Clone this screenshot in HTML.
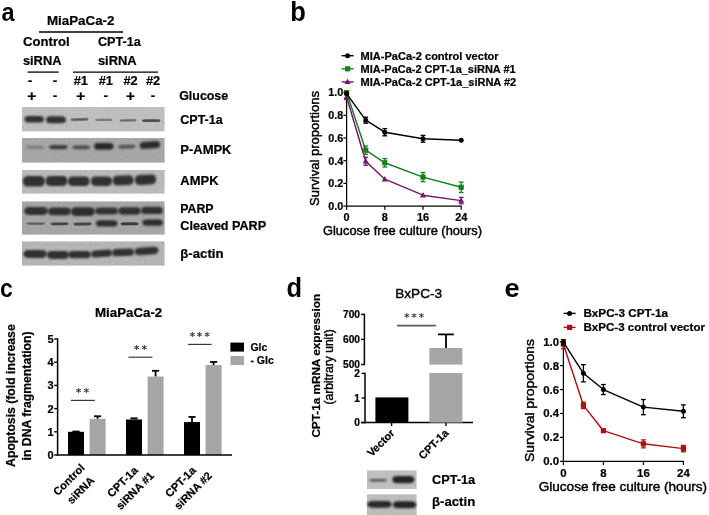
<!DOCTYPE html>
<html lang="en">
<head>
<meta charset="utf-8">
<title>Figure</title>
<style>
html,body{margin:0;padding:0;background:#fff;}
body{width:709px;height:515px;overflow:hidden;}
svg{display:block;font-family:"Liberation Sans",Arial,Helvetica,sans-serif;}
.k{stroke:#000;stroke-width:.22px;}
</style>
</head>
<body>
<svg width="709" height="515" viewBox="0 0 709 515">
<defs>
<filter id="b0" x="-20%" y="-80%" width="140%" height="260%"><feGaussianBlur stdDeviation="0.55"/></filter>
<filter id="b1" x="-20%" y="-60%" width="140%" height="220%"><feGaussianBlur stdDeviation="0.8"/></filter>
<filter id="b2" x="-20%" y="-60%" width="140%" height="220%"><feGaussianBlur stdDeviation="1.0"/></filter>
<filter id="bt" x="-5%" y="-5%" width="110%" height="110%"><feGaussianBlur stdDeviation="0.35"/></filter>
<filter id="nz" x="0" y="0" width="100%" height="100%">
<feTurbulence type="fractalNoise" baseFrequency="0.9" numOctaves="2" seed="3" result="t"/>
<feColorMatrix in="t" type="matrix" values="0 0 0 0 0  0 0 0 0 0  0 0 0 0 0  0.5 0.5 0 0 -0.42" result="n"/>
<feComposite in="n" in2="SourceGraphic" operator="in"/>
</filter>
<pattern id="gp" width="2" height="2" patternUnits="userSpaceOnUse"><rect width="2" height="2" fill="#a8a8a8"/><rect width="1" height="2" fill="#a3a3a3"/></pattern>
</defs>
<rect width="709" height="515" fill="#fff"/>

<g id="letters">
<text transform="translate(1.4 20.7) scale(1 1.07)" font-size="23.5" font-weight="bold">a</text>
<text transform="translate(290.2 20.5) scale(1 1.055)" font-size="25.5" font-weight="bold">b</text>
<text transform="translate(0 297.1) scale(0.98 1.13)" font-size="23.5" font-weight="bold">c</text>
<text transform="translate(286.6 296.8) scale(1 1.05)" font-size="25.5" font-weight="bold">d</text>
<text transform="translate(504.4 297.1) scale(1.16 1.13)" font-size="23.5" font-weight="bold">e</text>
</g>
<g id="panel-a">
<text x="47" y="25" font-size="13.2" font-weight="bold" textLength="67.4" lengthAdjust="spacingAndGlyphs" class="k">MiaPaCa-2</text>
<line x1="39" y1="32" x2="123" y2="32" stroke="#000" stroke-width="1.3" stroke-linecap="butt"/>
<text x="23.1" y="45.8" font-size="13.5" font-weight="bold" textLength="46.6" lengthAdjust="spacingAndGlyphs" class="k">Control</text>
<text x="22.9" y="64.5" font-size="13.5" font-weight="bold" textLength="38.6" lengthAdjust="spacingAndGlyphs" class="k">siRNA</text>
<text x="98" y="45.8" font-size="13.5" font-weight="bold" textLength="42.8" lengthAdjust="spacingAndGlyphs" class="k">CPT-1a</text>
<text x="97.9" y="64.5" font-size="13.5" font-weight="bold" textLength="38.8" lengthAdjust="spacingAndGlyphs" class="k">siRNA</text>
<line x1="27.6" y1="72.1" x2="58.7" y2="72.1" stroke="#000" stroke-width="1.3" stroke-linecap="butt"/>
<line x1="73" y1="72.1" x2="158" y2="72.1" stroke="#000" stroke-width="1.3" stroke-linecap="butt"/>
<text x="30.1" y="85.3" font-size="13.5" font-weight="bold" text-anchor="middle" class="k">-</text>
<text x="55.1" y="85.3" font-size="13.5" font-weight="bold" text-anchor="middle" class="k">-</text>
<text x="73.7" y="85.1" font-size="13" font-weight="bold" textLength="14.3" lengthAdjust="spacingAndGlyphs" class="k">#1</text>
<text x="98.7" y="85.1" font-size="13" font-weight="bold" textLength="14.3" lengthAdjust="spacingAndGlyphs" class="k">#1</text>
<text x="123.4" y="85.1" font-size="13" font-weight="bold" textLength="14.3" lengthAdjust="spacingAndGlyphs" class="k">#2</text>
<text x="145.9" y="85.1" font-size="13" font-weight="bold" textLength="14.3" lengthAdjust="spacingAndGlyphs" class="k">#2</text>
<text x="31.8" y="100.9" font-size="15.5" font-weight="bold" text-anchor="middle" class="k">+</text>
<text x="55.1" y="99.9" font-size="13.5" font-weight="bold" text-anchor="middle" class="k">-</text>
<text x="80.8" y="100.9" font-size="15.5" font-weight="bold" text-anchor="middle" class="k">+</text>
<text x="105.8" y="99.9" font-size="13.5" font-weight="bold" text-anchor="middle" class="k">-</text>
<text x="130.5" y="100.9" font-size="15.5" font-weight="bold" text-anchor="middle" class="k">+</text>
<text x="153" y="99.9" font-size="13.5" font-weight="bold" text-anchor="middle" class="k">-</text>
<g>
<rect x="22" y="107" width="142.6" height="24.4" fill="#c3c3c3" filter="url(#bt)"/>
<g>
<rect x="24.5" y="116.0" width="19.4" height="6.3999999999999995" rx="3.88" ry="3.1999999999999997" fill="#323232" filter="url(#b1)"/>
<rect x="46.1" y="116.3" width="19.800000000000004" height="7.0" rx="3.960000000000001" ry="3.5" fill="#303030" filter="url(#b1)"/>
<rect x="70.6" y="118.3" width="17.80000000000001" height="2.4" rx="3.5600000000000023" ry="1.2" fill="#5c5c5c" filter="url(#b0)" transform="rotate(-2 79.5 119.5)"/>
<rect x="95" y="118.80000000000001" width="17.400000000000006" height="2.2" rx="3.4800000000000013" ry="1.1" fill="#7e7e7e" filter="url(#b0)"/>
<rect x="119.6" y="119.30000000000001" width="16.80000000000001" height="2.2" rx="3.3600000000000025" ry="1.1" fill="#6c6c6c" filter="url(#b0)" transform="rotate(-1 128.0 120.4)"/>
<rect x="142" y="119.3" width="18.400000000000006" height="2.8" rx="3.6800000000000015" ry="1.4" fill="#505050" filter="url(#b0)"/>
</g>
<rect x="22" y="107" width="142.6" height="24.4" fill="#000" filter="url(#nz)" opacity="0.26"/>
</g>
<g>
<rect x="22" y="138" width="142.6" height="24.6" fill="#aaaaaa" filter="url(#bt)"/>
<g>
<rect x="26" y="145.7" width="18" height="3.0" rx="3.6" ry="1.5" fill="#7c7c7c" filter="url(#b1)"/>
<rect x="49" y="145.0" width="18.599999999999994" height="4.2" rx="3.719999999999999" ry="2.1" fill="#3e3e3e" filter="url(#b1)"/>
<rect x="72.4" y="145.4" width="17.599999999999994" height="3.8" rx="3.519999999999999" ry="1.9" fill="#4c4c4c" filter="url(#b1)"/>
<rect x="94.1" y="143.1" width="19.400000000000006" height="6.6" rx="3.8800000000000012" ry="3.3" fill="#2c2c2c" filter="url(#b1)"/>
<rect x="118" y="144.79999999999998" width="17.599999999999994" height="3.6" rx="3.519999999999999" ry="1.8" fill="#525252" filter="url(#b1)" transform="rotate(-2 126.8 146.6)"/>
<rect x="139.7" y="141.4" width="20.400000000000006" height="7.0" rx="4.080000000000001" ry="3.5" fill="#2c2c2c" filter="url(#b1)" transform="rotate(-4 149.89999999999998 144.9)"/>
</g>
<rect x="22" y="138" width="142.6" height="24.6" fill="#000" filter="url(#nz)" opacity="0.26"/>
</g>
<g>
<rect x="22" y="170" width="142.6" height="23.6" fill="#bebebe" filter="url(#bt)"/>
<g>
<rect x="22.9" y="176.10000000000002" width="22.0" height="10.4" rx="4.4" ry="5.2" fill="#303030" filter="url(#b1)"/>
<rect x="45.5" y="176.0" width="22.0" height="10.0" rx="4.4" ry="5.0" fill="#303030" filter="url(#b1)"/>
<rect x="67.9" y="176.5" width="21.799999999999997" height="9.600000000000001" rx="4.359999999999999" ry="4.800000000000001" fill="#303030" filter="url(#b1)"/>
<rect x="90.9" y="176.39999999999998" width="21.19999999999999" height="9.600000000000001" rx="4.2399999999999975" ry="4.800000000000001" fill="#303030" filter="url(#b1)"/>
<rect x="112.5" y="175.6" width="21.19999999999999" height="9.600000000000001" rx="4.2399999999999975" ry="4.800000000000001" fill="#303030" filter="url(#b1)" transform="rotate(-2 123.1 180.4)"/>
<rect x="134.8" y="174.7" width="21.299999999999983" height="10.0" rx="4.259999999999997" ry="5.0" fill="#303030" filter="url(#b1)" transform="rotate(-3 145.45 179.7)"/>
</g>
<rect x="22" y="170" width="142.6" height="23.6" fill="#000" filter="url(#nz)" opacity="0.26"/>
</g>
<g>
<rect x="22" y="201.4" width="142.6" height="33.2" fill="#a9a9a9" filter="url(#bt)"/>
<g>
<rect x="24.1" y="207.1" width="24.0" height="7.8" rx="4.800000000000001" ry="3.9" fill="#303030" filter="url(#b1)"/>
<rect x="47.9" y="207.5" width="23.199999999999996" height="7.8" rx="4.64" ry="3.9" fill="#303030" filter="url(#b1)"/>
<rect x="70.9" y="207.2" width="24.0" height="8.8" rx="4.800000000000001" ry="4.4" fill="#2e2e2e" filter="url(#b1)"/>
<rect x="95.1" y="207.6" width="22.80000000000001" height="6.8" rx="4.560000000000002" ry="3.4" fill="#323232" filter="url(#b1)"/>
<rect x="117.9" y="207.3" width="23.19999999999999" height="7.3999999999999995" rx="4.639999999999998" ry="3.6999999999999997" fill="#303030" filter="url(#b1)"/>
<rect x="141.1" y="206.70000000000002" width="21.80000000000001" height="7.3999999999999995" rx="4.360000000000002" ry="3.6999999999999997" fill="#303030" filter="url(#b1)"/>
<rect x="26.6" y="222.4" width="18.4" height="2.4" rx="3.6799999999999997" ry="1.2" fill="#5e5e5e" filter="url(#b0)"/>
<rect x="50.6" y="222.4" width="17.999999999999993" height="2.8" rx="3.5999999999999988" ry="1.4" fill="#444" filter="url(#b0)" transform="rotate(-1 59.599999999999994 223.8)"/>
<rect x="73.6" y="222.6" width="18.0" height="2.8" rx="3.6" ry="1.4" fill="#464646" filter="url(#b0)" transform="rotate(-1 82.6 224)"/>
<rect x="95.9" y="220.3" width="21.599999999999994" height="6.2" rx="4.319999999999999" ry="3.1" fill="#2e2e2e" filter="url(#b1)"/>
<rect x="120.6" y="222.3" width="17.80000000000001" height="3" rx="3.5600000000000023" ry="1.5" fill="#3e3e3e" filter="url(#b0)"/>
<rect x="142.5" y="219.4" width="20.400000000000006" height="6.3999999999999995" rx="4.080000000000001" ry="3.1999999999999997" fill="#2e2e2e" filter="url(#b1)"/>
</g>
<rect x="22" y="201.4" width="142.6" height="33.2" fill="#000" filter="url(#nz)" opacity="0.26"/>
</g>
<g>
<rect x="22" y="241.4" width="142.6" height="24.2" fill="#b9b9b9" filter="url(#bt)"/>
<g>
<rect x="23.5" y="250.1" width="23.4" height="7.8" rx="4.68" ry="3.9" fill="#303030" filter="url(#b1)"/>
<rect x="46.9" y="251.1" width="22.199999999999996" height="7.8" rx="4.4399999999999995" ry="3.9" fill="#303030" filter="url(#b1)"/>
<rect x="68.1" y="251.0" width="23.0" height="7.2" rx="4.6000000000000005" ry="3.6" fill="#303030" filter="url(#b1)"/>
<rect x="91.1" y="249.9" width="21.0" height="7.0" rx="4.2" ry="3.5" fill="#303030" filter="url(#b1)" transform="rotate(-4 101.6 253.4)"/>
<rect x="112.1" y="248.8" width="22.0" height="7.2" rx="4.4" ry="3.6" fill="#303030" filter="url(#b1)" transform="rotate(-2 123.1 252.4)"/>
<rect x="134.5" y="247.2" width="24.0" height="7.6" rx="4.800000000000001" ry="3.8" fill="#303030" filter="url(#b1)" transform="rotate(-4 146.5 251)"/>
</g>
<rect x="22" y="241.4" width="142.6" height="24.2" fill="#000" filter="url(#nz)" opacity="0.26"/>
</g>
<text x="179.2" y="99.5" font-size="13.5" font-weight="bold" textLength="49" lengthAdjust="spacingAndGlyphs" class="k">Glucose</text>
<text x="180.3" y="124.4" font-size="13.5" font-weight="bold" textLength="42.4" lengthAdjust="spacingAndGlyphs" class="k">CPT-1a</text>
<text x="180.3" y="153.8" font-size="13.5" font-weight="bold" textLength="51.2" lengthAdjust="spacingAndGlyphs" class="k">P-AMPK</text>
<text x="180.3" y="184.8" font-size="13.5" font-weight="bold" textLength="38.2" lengthAdjust="spacingAndGlyphs" class="k">AMPK</text>
<text x="180.3" y="212.8" font-size="13.5" font-weight="bold" textLength="33.2" lengthAdjust="spacingAndGlyphs" class="k">PARP</text>
<text x="180.3" y="230.4" font-size="13.5" font-weight="bold" textLength="85.8" lengthAdjust="spacingAndGlyphs" class="k">Cleaved PARP</text>
<text x="180.3" y="258.2" font-size="13.5" font-weight="bold" textLength="43.2" lengthAdjust="spacingAndGlyphs" class="k">β-actin</text>
</g>
<g id="panel-b">
<line x1="341.6" y1="55.7" x2="353.6" y2="55.7" stroke="#000" stroke-width="1.4" stroke-linecap="butt"/>
<circle cx="347.6" cy="55.7" r="2.5" fill="#000"/>
<text x="360.6" y="59.800000000000004" font-size="11.2" font-weight="bold" textLength="138" lengthAdjust="spacingAndGlyphs" class="k">MIA-PaCa-2 control vector</text>
<line x1="341.6" y1="68.8" x2="353.6" y2="68.8" stroke="#15821a" stroke-width="1.4" stroke-linecap="butt"/>
<rect x="345.0" y="66.2" width="5.2" height="5.2" fill="#15821a"/>
<text x="360.6" y="72.89999999999999" font-size="11.2" font-weight="bold" textLength="155" lengthAdjust="spacingAndGlyphs" class="k">MIA-PaCa-2 CPT-1a_siRNA #1</text>
<line x1="341.6" y1="81.9" x2="353.6" y2="81.9" stroke="#6f1a6d" stroke-width="1.4" stroke-linecap="butt"/>
<path d="M347.6 78.7 L350.70000000000005 84.10000000000001 L344.5 84.10000000000001 Z" fill="#6f1a6d"/>
<text x="360.6" y="86.0" font-size="11.2" font-weight="bold" textLength="155.6" lengthAdjust="spacingAndGlyphs" class="k">MIA-PaCa-2 CPT-1a_siRNA #2</text>
<line x1="346.6" y1="92.0" x2="346.6" y2="206.7" stroke="#000" stroke-width="1.25" stroke-linecap="butt"/>
<line x1="346.0" y1="206.1" x2="461.80000000000007" y2="206.1" stroke="#000" stroke-width="1.25" stroke-linecap="butt"/>
<line x1="343.40000000000003" y1="206.1" x2="346.6" y2="206.1" stroke="#000" stroke-width="1.2" stroke-linecap="butt"/>
<text x="343.3" y="209.9" font-size="10.9" font-weight="bold" text-anchor="end" textLength="15" lengthAdjust="spacingAndGlyphs" class="k">0.0</text>
<line x1="343.40000000000003" y1="183.39999999999998" x2="346.6" y2="183.39999999999998" stroke="#000" stroke-width="1.2" stroke-linecap="butt"/>
<text x="343.3" y="187.2" font-size="10.9" font-weight="bold" text-anchor="end" textLength="15" lengthAdjust="spacingAndGlyphs" class="k">0.2</text>
<line x1="343.40000000000003" y1="160.7" x2="346.6" y2="160.7" stroke="#000" stroke-width="1.2" stroke-linecap="butt"/>
<text x="343.3" y="164.5" font-size="10.9" font-weight="bold" text-anchor="end" textLength="15" lengthAdjust="spacingAndGlyphs" class="k">0.4</text>
<line x1="343.40000000000003" y1="138.0" x2="346.6" y2="138.0" stroke="#000" stroke-width="1.2" stroke-linecap="butt"/>
<text x="343.3" y="141.8" font-size="10.9" font-weight="bold" text-anchor="end" textLength="15" lengthAdjust="spacingAndGlyphs" class="k">0.6</text>
<line x1="343.40000000000003" y1="115.29999999999998" x2="346.6" y2="115.29999999999998" stroke="#000" stroke-width="1.2" stroke-linecap="butt"/>
<text x="343.3" y="119.09999999999998" font-size="10.9" font-weight="bold" text-anchor="end" textLength="15" lengthAdjust="spacingAndGlyphs" class="k">0.8</text>
<line x1="343.40000000000003" y1="92.6" x2="346.6" y2="92.6" stroke="#000" stroke-width="1.2" stroke-linecap="butt"/>
<text x="343.3" y="96.39999999999999" font-size="10.9" font-weight="bold" text-anchor="end" textLength="15" lengthAdjust="spacingAndGlyphs" class="k">1.0</text>
<line x1="346.6" y1="206.1" x2="346.6" y2="209.7" stroke="#000" stroke-width="1.2" stroke-linecap="butt"/>
<text x="346.6" y="220.9" font-size="10.9" font-weight="bold" text-anchor="middle" class="k">0</text>
<line x1="384.8" y1="206.1" x2="384.8" y2="209.7" stroke="#000" stroke-width="1.2" stroke-linecap="butt"/>
<text x="384.8" y="220.9" font-size="10.9" font-weight="bold" text-anchor="middle" class="k">8</text>
<line x1="423.0" y1="206.1" x2="423.0" y2="209.7" stroke="#000" stroke-width="1.2" stroke-linecap="butt"/>
<text x="423.0" y="220.9" font-size="10.9" font-weight="bold" text-anchor="middle" class="k">16</text>
<line x1="461.20000000000005" y1="206.1" x2="461.20000000000005" y2="209.7" stroke="#000" stroke-width="1.2" stroke-linecap="butt"/>
<text x="461.20000000000005" y="220.9" font-size="10.9" font-weight="bold" text-anchor="middle" class="k">24</text>
<path d="M346.6 97 L365.70000000000005 161.2 L384.8 179.2 L423.0 195.2 L461.20000000000005 200.6" fill="none" stroke="#6f1a6d" stroke-width="1.45" stroke-linejoin="round"/>
<line x1="346.6" y1="94.4" x2="346.6" y2="99.6" stroke="#6f1a6d" stroke-width="1.3" stroke-linecap="butt"/>
<line x1="344.20000000000005" y1="94.4" x2="349.0" y2="94.4" stroke="#6f1a6d" stroke-width="1.3" stroke-linecap="butt"/>
<line x1="344.20000000000005" y1="99.6" x2="349.0" y2="99.6" stroke="#6f1a6d" stroke-width="1.3" stroke-linecap="butt"/>
<path d="M346.6 93.8 L349.70000000000005 99.2 L343.5 99.2 Z" fill="#6f1a6d"/>
<line x1="365.70000000000005" y1="157.2" x2="365.70000000000005" y2="165.2" stroke="#6f1a6d" stroke-width="1.3" stroke-linecap="butt"/>
<line x1="363.30000000000007" y1="157.2" x2="368.1" y2="157.2" stroke="#6f1a6d" stroke-width="1.3" stroke-linecap="butt"/>
<line x1="363.30000000000007" y1="165.2" x2="368.1" y2="165.2" stroke="#6f1a6d" stroke-width="1.3" stroke-linecap="butt"/>
<path d="M365.70000000000005 158.0 L368.80000000000007 163.39999999999998 L362.6 163.39999999999998 Z" fill="#6f1a6d"/>
<path d="M384.8 176.0 L387.90000000000003 181.39999999999998 L381.7 181.39999999999998 Z" fill="#6f1a6d"/>
<path d="M423.0 192.0 L426.1 197.39999999999998 L419.9 197.39999999999998 Z" fill="#6f1a6d"/>
<line x1="461.20000000000005" y1="197.4" x2="461.20000000000005" y2="203.79999999999998" stroke="#6f1a6d" stroke-width="1.3" stroke-linecap="butt"/>
<line x1="458.80000000000007" y1="197.4" x2="463.6" y2="197.4" stroke="#6f1a6d" stroke-width="1.3" stroke-linecap="butt"/>
<line x1="458.80000000000007" y1="203.79999999999998" x2="463.6" y2="203.79999999999998" stroke="#6f1a6d" stroke-width="1.3" stroke-linecap="butt"/>
<path d="M461.20000000000005 197.4 L464.30000000000007 202.79999999999998 L458.1 202.79999999999998 Z" fill="#6f1a6d"/>
<path d="M346.6 92.6 L365.70000000000005 150.2 L384.8 162.8 L423.0 177.1 L461.20000000000005 187.3" fill="none" stroke="#15821a" stroke-width="1.45" stroke-linejoin="round"/>
<line x1="346.6" y1="90.6" x2="346.6" y2="94.6" stroke="#15821a" stroke-width="1.3" stroke-linecap="butt"/>
<line x1="344.20000000000005" y1="90.6" x2="349.0" y2="90.6" stroke="#15821a" stroke-width="1.3" stroke-linecap="butt"/>
<line x1="344.20000000000005" y1="94.6" x2="349.0" y2="94.6" stroke="#15821a" stroke-width="1.3" stroke-linecap="butt"/>
<rect x="344.0" y="90.0" width="5.2" height="5.2" fill="#15821a"/>
<line x1="365.70000000000005" y1="146.0" x2="365.70000000000005" y2="154.39999999999998" stroke="#15821a" stroke-width="1.3" stroke-linecap="butt"/>
<line x1="363.30000000000007" y1="146.0" x2="368.1" y2="146.0" stroke="#15821a" stroke-width="1.3" stroke-linecap="butt"/>
<line x1="363.30000000000007" y1="154.39999999999998" x2="368.1" y2="154.39999999999998" stroke="#15821a" stroke-width="1.3" stroke-linecap="butt"/>
<rect x="363.1" y="147.6" width="5.2" height="5.2" fill="#15821a"/>
<line x1="384.8" y1="158.60000000000002" x2="384.8" y2="167.0" stroke="#15821a" stroke-width="1.3" stroke-linecap="butt"/>
<line x1="382.40000000000003" y1="158.60000000000002" x2="387.2" y2="158.60000000000002" stroke="#15821a" stroke-width="1.3" stroke-linecap="butt"/>
<line x1="382.40000000000003" y1="167.0" x2="387.2" y2="167.0" stroke="#15821a" stroke-width="1.3" stroke-linecap="butt"/>
<rect x="382.2" y="160.20000000000002" width="5.2" height="5.2" fill="#15821a"/>
<line x1="423.0" y1="172.5" x2="423.0" y2="181.7" stroke="#15821a" stroke-width="1.3" stroke-linecap="butt"/>
<line x1="420.6" y1="172.5" x2="425.4" y2="172.5" stroke="#15821a" stroke-width="1.3" stroke-linecap="butt"/>
<line x1="420.6" y1="181.7" x2="425.4" y2="181.7" stroke="#15821a" stroke-width="1.3" stroke-linecap="butt"/>
<rect x="420.4" y="174.5" width="5.2" height="5.2" fill="#15821a"/>
<line x1="461.20000000000005" y1="182.10000000000002" x2="461.20000000000005" y2="192.5" stroke="#15821a" stroke-width="1.3" stroke-linecap="butt"/>
<line x1="458.80000000000007" y1="182.10000000000002" x2="463.6" y2="182.10000000000002" stroke="#15821a" stroke-width="1.3" stroke-linecap="butt"/>
<line x1="458.80000000000007" y1="192.5" x2="463.6" y2="192.5" stroke="#15821a" stroke-width="1.3" stroke-linecap="butt"/>
<rect x="458.6" y="184.70000000000002" width="5.2" height="5.2" fill="#15821a"/>
<path d="M346.6 93.6 L365.70000000000005 120.2 L384.8 132.2 L423.0 138.8 L461.20000000000005 140.2" fill="none" stroke="#000" stroke-width="1.45" stroke-linejoin="round"/>
<circle cx="346.6" cy="93.6" r="2.5" fill="#000"/>
<line x1="365.70000000000005" y1="117.2" x2="365.70000000000005" y2="123.2" stroke="#000" stroke-width="1.3" stroke-linecap="butt"/>
<line x1="363.30000000000007" y1="117.2" x2="368.1" y2="117.2" stroke="#000" stroke-width="1.3" stroke-linecap="butt"/>
<line x1="363.30000000000007" y1="123.2" x2="368.1" y2="123.2" stroke="#000" stroke-width="1.3" stroke-linecap="butt"/>
<circle cx="365.70000000000005" cy="120.2" r="2.5" fill="#000"/>
<line x1="384.8" y1="128.6" x2="384.8" y2="135.79999999999998" stroke="#000" stroke-width="1.3" stroke-linecap="butt"/>
<line x1="382.40000000000003" y1="128.6" x2="387.2" y2="128.6" stroke="#000" stroke-width="1.3" stroke-linecap="butt"/>
<line x1="382.40000000000003" y1="135.79999999999998" x2="387.2" y2="135.79999999999998" stroke="#000" stroke-width="1.3" stroke-linecap="butt"/>
<circle cx="384.8" cy="132.2" r="2.5" fill="#000"/>
<line x1="423.0" y1="135.4" x2="423.0" y2="142.20000000000002" stroke="#000" stroke-width="1.3" stroke-linecap="butt"/>
<line x1="420.6" y1="135.4" x2="425.4" y2="135.4" stroke="#000" stroke-width="1.3" stroke-linecap="butt"/>
<line x1="420.6" y1="142.20000000000002" x2="425.4" y2="142.20000000000002" stroke="#000" stroke-width="1.3" stroke-linecap="butt"/>
<circle cx="423.0" cy="138.8" r="2.5" fill="#000"/>
<circle cx="461.20000000000005" cy="140.2" r="2.5" fill="#000"/>
<text x="323" y="234.8" font-size="13" textLength="159" lengthAdjust="spacingAndGlyphs" stroke="#000" stroke-width="0.45">Glucose free culture (hours)</text>
<text x="319" y="206" font-size="13" textLength="115" lengthAdjust="spacingAndGlyphs" transform="rotate(-90 319 206)" stroke="#000" stroke-width="0.45">Survival proportions</text>
</g>
<g id="panel-c">
<text x="95" y="317" font-size="13.2" font-weight="bold" textLength="67.2" lengthAdjust="spacingAndGlyphs" class="k">MiaPaCa-2</text>
<line x1="76.0" y1="431.5216" x2="76.0" y2="431.8" stroke="#000" stroke-width="1.8" stroke-linecap="butt"/>
<line x1="72.4" y1="431.5216" x2="79.6" y2="431.5216" stroke="#000" stroke-width="1.8" stroke-linecap="butt"/>
<rect x="68" y="431.8" width="16" height="23.19999999999999" fill="#000"/>
<line x1="97.6" y1="416.256" x2="97.6" y2="418.808" stroke="#000" stroke-width="1.8" stroke-linecap="butt"/>
<line x1="94.0" y1="416.256" x2="101.19999999999999" y2="416.256" stroke="#000" stroke-width="1.8" stroke-linecap="butt"/>
<rect x="89.6" y="418.808" width="16.0" height="36.19200000000001" fill="url(#gp)"/>
<line x1="134.0" y1="418.344" x2="134.0" y2="419.504" stroke="#000" stroke-width="1.8" stroke-linecap="butt"/>
<line x1="130.4" y1="418.344" x2="137.6" y2="418.344" stroke="#000" stroke-width="1.8" stroke-linecap="butt"/>
<rect x="126" y="419.504" width="16" height="35.49599999999998" fill="#000"/>
<line x1="155.6" y1="370.784" x2="155.6" y2="376.584" stroke="#000" stroke-width="1.8" stroke-linecap="butt"/>
<line x1="152.0" y1="370.784" x2="159.2" y2="370.784" stroke="#000" stroke-width="1.8" stroke-linecap="butt"/>
<rect x="147.6" y="376.584" width="16.0" height="78.416" fill="url(#gp)"/>
<line x1="192.0" y1="416.952" x2="192.0" y2="422.056" stroke="#000" stroke-width="1.8" stroke-linecap="butt"/>
<line x1="188.4" y1="416.952" x2="195.6" y2="416.952" stroke="#000" stroke-width="1.8" stroke-linecap="butt"/>
<rect x="184" y="422.056" width="16" height="32.94400000000002" fill="#000"/>
<line x1="213.6" y1="361.968" x2="213.6" y2="364.98400000000004" stroke="#000" stroke-width="1.8" stroke-linecap="butt"/>
<line x1="210.0" y1="361.968" x2="217.2" y2="361.968" stroke="#000" stroke-width="1.8" stroke-linecap="butt"/>
<rect x="205.6" y="364.98400000000004" width="16.0" height="90.01599999999996" fill="url(#gp)"/>
<line x1="57.6" y1="338.3" x2="57.6" y2="455.7" stroke="#000" stroke-width="1.5" stroke-linecap="butt"/>
<line x1="56.9" y1="455" x2="232" y2="455" stroke="#000" stroke-width="1.5" stroke-linecap="butt"/>
<line x1="54.2" y1="455.0" x2="57.6" y2="455.0" stroke="#000" stroke-width="1.4" stroke-linecap="butt"/>
<text x="53.6" y="459.0" font-size="11" font-weight="bold" text-anchor="end" class="k">0</text>
<line x1="54.2" y1="431.8" x2="57.6" y2="431.8" stroke="#000" stroke-width="1.4" stroke-linecap="butt"/>
<text x="53.6" y="435.8" font-size="11" font-weight="bold" text-anchor="end" class="k">1</text>
<line x1="54.2" y1="408.6" x2="57.6" y2="408.6" stroke="#000" stroke-width="1.4" stroke-linecap="butt"/>
<text x="53.6" y="412.6" font-size="11" font-weight="bold" text-anchor="end" class="k">2</text>
<line x1="54.2" y1="385.4" x2="57.6" y2="385.4" stroke="#000" stroke-width="1.4" stroke-linecap="butt"/>
<text x="53.6" y="389.4" font-size="11" font-weight="bold" text-anchor="end" class="k">3</text>
<line x1="54.2" y1="362.2" x2="57.6" y2="362.2" stroke="#000" stroke-width="1.4" stroke-linecap="butt"/>
<text x="53.6" y="366.2" font-size="11" font-weight="bold" text-anchor="end" class="k">4</text>
<line x1="54.2" y1="339.0" x2="57.6" y2="339.0" stroke="#000" stroke-width="1.4" stroke-linecap="butt"/>
<text x="53.6" y="343.0" font-size="11" font-weight="bold" text-anchor="end" class="k">5</text>
<text x="78.53 86.28" y="395.8" font-family="&quot;DejaVu Sans&quot;, &quot;Liberation Sans&quot;, sans-serif" font-size="10.8" font-weight="bold" text-anchor="middle" fill="#383838">**</text>
<line x1="71" y1="400.4" x2="94.8" y2="400.4" stroke="#383838" stroke-width="1.2" stroke-linecap="butt"/>
<text x="136.53 144.28" y="352.8" font-family="&quot;DejaVu Sans&quot;, &quot;Liberation Sans&quot;, sans-serif" font-size="10.8" font-weight="bold" text-anchor="middle" fill="#383838">**</text>
<line x1="128.4" y1="357.2" x2="152.4" y2="357.2" stroke="#383838" stroke-width="1.2" stroke-linecap="butt"/>
<text x="192.25 199.70 207.15" y="340" font-family="&quot;DejaVu Sans&quot;, &quot;Liberation Sans&quot;, sans-serif" font-size="10.8" font-weight="bold" text-anchor="middle" fill="#383838">***</text>
<line x1="188" y1="344.4" x2="211.6" y2="344.4" stroke="#383838" stroke-width="1.2" stroke-linecap="butt"/>
<rect x="230.4" y="342.6" width="13.6" height="9" fill="#000"/>
<rect x="230.4" y="356" width="13.6" height="9" fill="url(#gp)"/>
<text x="250.4" y="351.2" font-size="11" font-weight="bold" textLength="17" lengthAdjust="spacingAndGlyphs" class="k">Glc</text>
<text x="250.4" y="364.4" font-size="11" font-weight="bold" textLength="23.4" lengthAdjust="spacingAndGlyphs" class="k">- Glc</text>
<text x="15.2" y="466.9" font-size="12.2" font-weight="bold" textLength="142.6" lengthAdjust="spacingAndGlyphs" transform="rotate(-90 15.2 466.9)" class="k">Apoptosis (fold increase</text>
<text x="30.6" y="460.4" font-size="12.2" font-weight="bold" textLength="129" lengthAdjust="spacingAndGlyphs" transform="rotate(-90 30.6 460.4)" class="k">in DNA fragmentation)</text>
<text x="85.4" y="468.6" font-size="11" font-weight="bold" class="k" text-anchor="end" transform="rotate(-45 85.4 468.6)">Control</text>
<text x="95.1" y="481.2" font-size="11" font-weight="bold" class="k" text-anchor="end" transform="rotate(-45 95.1 481.2)">siRNA</text>
<text x="138.6" y="471.2" font-size="11.2" font-weight="bold" class="k" text-anchor="end" transform="rotate(-45 138.6 471.2)">CPT-1a</text>
<text x="154.6" y="476.4" font-size="11" font-weight="bold" class="k" text-anchor="end" transform="rotate(-45 154.6 476.4)">siRNA #1</text>
<text x="196.6" y="471.2" font-size="11.2" font-weight="bold" class="k" text-anchor="end" transform="rotate(-45 196.6 471.2)">CPT-1a</text>
<text x="212.6" y="476.4" font-size="11" font-weight="bold" class="k" text-anchor="end" transform="rotate(-45 212.6 476.4)">siRNA #2</text>
</g>
<g id="panel-d">
<text x="395.2" y="297.8" font-size="13" textLength="46.9" lengthAdjust="spacingAndGlyphs" stroke="#000" stroke-width="0.4">BxPC-3</text>
<line x1="364.4" y1="313.7" x2="364.4" y2="365.2" stroke="#000" stroke-width="1.5" stroke-linecap="butt"/>
<line x1="361" y1="314.4" x2="364.4" y2="314.4" stroke="#000" stroke-width="1.4" stroke-linecap="butt"/>
<text x="360" y="318.09999999999997" font-size="10.2" font-weight="bold" text-anchor="end" class="k">700</text>
<line x1="361" y1="339.4" x2="364.4" y2="339.4" stroke="#000" stroke-width="1.4" stroke-linecap="butt"/>
<text x="360" y="343.09999999999997" font-size="10.2" font-weight="bold" text-anchor="end" class="k">600</text>
<line x1="361" y1="364.5" x2="364.4" y2="364.5" stroke="#000" stroke-width="1.4" stroke-linecap="butt"/>
<text x="360" y="368.2" font-size="10.2" font-weight="bold" text-anchor="end" class="k">500</text>
<line x1="365" y1="372.7" x2="365" y2="423.3" stroke="#000" stroke-width="1.5" stroke-linecap="butt"/>
<line x1="361.6" y1="373.4" x2="365" y2="373.4" stroke="#000" stroke-width="1.4" stroke-linecap="butt"/>
<text x="360" y="377.09999999999997" font-size="10.2" font-weight="bold" text-anchor="end" class="k">2</text>
<line x1="361.6" y1="398" x2="365" y2="398" stroke="#000" stroke-width="1.4" stroke-linecap="butt"/>
<text x="360" y="401.7" font-size="10.2" font-weight="bold" text-anchor="end" class="k">1</text>
<line x1="361.6" y1="422.6" x2="365" y2="422.6" stroke="#000" stroke-width="1.4" stroke-linecap="butt"/>
<text x="360" y="426.3" font-size="10.2" font-weight="bold" text-anchor="end" class="k">0</text>
<line x1="361" y1="422.6" x2="473" y2="422.6" stroke="#000" stroke-width="1.5" stroke-linecap="butt"/>
<line x1="391.6" y1="422.6" x2="391.6" y2="426" stroke="#000" stroke-width="1.4" stroke-linecap="butt"/>
<line x1="446" y1="422.6" x2="446" y2="426" stroke="#000" stroke-width="1.4" stroke-linecap="butt"/>
<rect x="375.4" y="397.4" width="33" height="25.2" fill="#000"/>
<line x1="446" y1="334.4" x2="446" y2="349" stroke="#000" stroke-width="1.8" stroke-linecap="butt"/>
<line x1="438" y1="334.4" x2="453.8" y2="334.4" stroke="#000" stroke-width="1.8" stroke-linecap="butt"/>
<rect x="429.4" y="348" width="33" height="16.6" fill="url(#gp)"/>
<rect x="429.4" y="373" width="33" height="49.6" fill="url(#gp)"/>
<text x="406.95 414.15 421.35" y="320.7" font-family="&quot;DejaVu Sans&quot;, &quot;Liberation Sans&quot;, sans-serif" font-size="10.8" font-weight="bold" text-anchor="middle" fill="#444">***</text>
<line x1="397" y1="325.7" x2="435.8" y2="325.7" stroke="#5c5c5c" stroke-width="1.8" stroke-linecap="butt"/>
<text x="319.9" y="437.6" font-size="11.8" font-weight="bold" textLength="143.8" lengthAdjust="spacingAndGlyphs" transform="rotate(-90 319.9 437.6)" class="k">CPT-1a mRNA expression</text>
<text x="333.4" y="404.6" font-size="12" textLength="75.3" lengthAdjust="spacingAndGlyphs" transform="rotate(-90 333.4 404.6)" stroke="#000" stroke-width="0.4">(arbitrary unit)</text>
<text x="395.2" y="433.8" font-size="10.9" font-weight="bold" class="k" text-anchor="end" transform="rotate(-45 395.2 433.8)">Vector</text>
<text x="449.2" y="433.8" font-size="10.9" font-weight="bold" class="k" text-anchor="end" transform="rotate(-45 449.2 433.8)">CPT-1a</text>
<g>
<rect x="367" y="470.4" width="49.6" height="18.6" fill="#c4c4c4" filter="url(#bt)"/>
<g>
<rect x="369.4" y="478.9" width="17.400000000000034" height="2.6" rx="3.480000000000007" ry="1.3" fill="#505050" filter="url(#b1)"/>
<rect x="392.3" y="476.0" width="22.0" height="7.2" rx="4.4" ry="3.6" fill="#282828" filter="url(#b1)"/>
</g>
<rect x="367" y="470.4" width="49.6" height="18.6" fill="#000" filter="url(#nz)" opacity="0.26"/>
</g>
<g>
<rect x="367" y="494.4" width="49.6" height="22" fill="#c0c0c0" filter="url(#bt)"/>
<g>
<rect x="367.3" y="501.09999999999997" width="24.399999999999977" height="6.6" rx="4.8799999999999955" ry="3.3" fill="#2a2a2a" filter="url(#b1)"/>
<rect x="392.9" y="501.3" width="23.400000000000034" height="7.0" rx="4.680000000000007" ry="3.5" fill="#282828" filter="url(#b1)"/>
</g>
<rect x="367" y="494.4" width="49.6" height="22" fill="#000" filter="url(#nz)" opacity="0.26"/>
</g>
<text x="432" y="484.4" font-size="13.5" font-weight="bold" textLength="43.2" lengthAdjust="spacingAndGlyphs" class="k">CPT-1a</text>
<text x="432" y="505.8" font-size="13.5" font-weight="bold" textLength="43.2" lengthAdjust="spacingAndGlyphs" class="k">β-actin</text>
</g>
<g id="panel-e">
<line x1="563.6" y1="313.4" x2="575.6" y2="313.4" stroke="#000" stroke-width="1.4" stroke-linecap="butt"/>
<circle cx="569.6" cy="313.4" r="2.5" fill="#000"/>
<text x="583.4" y="317.2" font-size="11.6" font-weight="bold" textLength="84.6" lengthAdjust="spacingAndGlyphs" class="k">BxPC-3 CPT-1a</text>
<line x1="563.6" y1="327.4" x2="575.6" y2="327.4" stroke="#ab111b" stroke-width="1.4" stroke-linecap="butt"/>
<rect x="567.0" y="324.79999999999995" width="5.2" height="5.2" fill="#ab111b"/>
<text x="583.4" y="331.2" font-size="11.6" font-weight="bold" textLength="121.6" lengthAdjust="spacingAndGlyphs" class="k">BxPC-3 control vector</text>
<line x1="563.4" y1="341.1" x2="563.4" y2="461.90000000000003" stroke="#000" stroke-width="1.25" stroke-linecap="butt"/>
<line x1="562.8" y1="461.3" x2="684.0" y2="461.3" stroke="#000" stroke-width="1.25" stroke-linecap="butt"/>
<line x1="560.0" y1="461.3" x2="563.4" y2="461.3" stroke="#000" stroke-width="1.2" stroke-linecap="butt"/>
<text x="559" y="465.3" font-size="11.4" font-weight="bold" text-anchor="end" class="k">0.0</text>
<line x1="560.0" y1="437.38" x2="563.4" y2="437.38" stroke="#000" stroke-width="1.2" stroke-linecap="butt"/>
<text x="559" y="441.38" font-size="11.4" font-weight="bold" text-anchor="end" class="k">0.2</text>
<line x1="560.0" y1="413.46000000000004" x2="563.4" y2="413.46000000000004" stroke="#000" stroke-width="1.2" stroke-linecap="butt"/>
<text x="559" y="417.46000000000004" font-size="11.4" font-weight="bold" text-anchor="end" class="k">0.4</text>
<line x1="560.0" y1="389.54" x2="563.4" y2="389.54" stroke="#000" stroke-width="1.2" stroke-linecap="butt"/>
<text x="559" y="393.54" font-size="11.4" font-weight="bold" text-anchor="end" class="k">0.6</text>
<line x1="560.0" y1="365.62" x2="563.4" y2="365.62" stroke="#000" stroke-width="1.2" stroke-linecap="butt"/>
<text x="559" y="369.62" font-size="11.4" font-weight="bold" text-anchor="end" class="k">0.8</text>
<line x1="560.0" y1="341.70000000000005" x2="563.4" y2="341.70000000000005" stroke="#000" stroke-width="1.2" stroke-linecap="butt"/>
<text x="559" y="345.70000000000005" font-size="11.4" font-weight="bold" text-anchor="end" class="k">1.0</text>
<line x1="563.4" y1="461.3" x2="563.4" y2="464.90000000000003" stroke="#000" stroke-width="1.2" stroke-linecap="butt"/>
<text x="563.4" y="477.1" font-size="11.4" font-weight="bold" text-anchor="middle" class="k">0</text>
<line x1="603.4" y1="461.3" x2="603.4" y2="464.90000000000003" stroke="#000" stroke-width="1.2" stroke-linecap="butt"/>
<text x="603.4" y="477.1" font-size="11.4" font-weight="bold" text-anchor="middle" class="k">8</text>
<line x1="643.4" y1="461.3" x2="643.4" y2="464.90000000000003" stroke="#000" stroke-width="1.2" stroke-linecap="butt"/>
<text x="643.4" y="477.1" font-size="11.4" font-weight="bold" text-anchor="middle" class="k">16</text>
<line x1="683.4" y1="461.3" x2="683.4" y2="464.90000000000003" stroke="#000" stroke-width="1.2" stroke-linecap="butt"/>
<text x="683.4" y="477.1" font-size="11.4" font-weight="bold" text-anchor="middle" class="k">24</text>
<path d="M563.4 344.2 L583.4 405.3272 L603.4 430.68240000000003 L643.4 443.83840000000004 L683.4 448.6224" fill="none" stroke="#ab111b" stroke-width="1.45" stroke-linejoin="round"/>
<line x1="563.4" y1="339.59999999999997" x2="563.4" y2="348.8" stroke="#ab111b" stroke-width="1.3" stroke-linecap="butt"/>
<line x1="561.0" y1="339.59999999999997" x2="565.8" y2="339.59999999999997" stroke="#ab111b" stroke-width="1.3" stroke-linecap="butt"/>
<line x1="561.0" y1="348.8" x2="565.8" y2="348.8" stroke="#ab111b" stroke-width="1.3" stroke-linecap="butt"/>
<rect x="560.8" y="341.59999999999997" width="5.2" height="5.2" fill="#ab111b"/>
<line x1="583.4" y1="402.1272" x2="583.4" y2="408.5272" stroke="#ab111b" stroke-width="1.3" stroke-linecap="butt"/>
<line x1="581.0" y1="402.1272" x2="585.8" y2="402.1272" stroke="#ab111b" stroke-width="1.3" stroke-linecap="butt"/>
<line x1="581.0" y1="408.5272" x2="585.8" y2="408.5272" stroke="#ab111b" stroke-width="1.3" stroke-linecap="butt"/>
<rect x="580.8" y="402.7272" width="5.2" height="5.2" fill="#ab111b"/>
<rect x="600.8" y="428.0824" width="5.2" height="5.2" fill="#ab111b"/>
<line x1="643.4" y1="439.83840000000004" x2="643.4" y2="447.83840000000004" stroke="#ab111b" stroke-width="1.3" stroke-linecap="butt"/>
<line x1="641.0" y1="439.83840000000004" x2="645.8" y2="439.83840000000004" stroke="#ab111b" stroke-width="1.3" stroke-linecap="butt"/>
<line x1="641.0" y1="447.83840000000004" x2="645.8" y2="447.83840000000004" stroke="#ab111b" stroke-width="1.3" stroke-linecap="butt"/>
<rect x="640.8" y="441.2384" width="5.2" height="5.2" fill="#ab111b"/>
<line x1="683.4" y1="445.42240000000004" x2="683.4" y2="451.8224" stroke="#ab111b" stroke-width="1.3" stroke-linecap="butt"/>
<line x1="681.0" y1="445.42240000000004" x2="685.8" y2="445.42240000000004" stroke="#ab111b" stroke-width="1.3" stroke-linecap="butt"/>
<line x1="681.0" y1="451.8224" x2="685.8" y2="451.8224" stroke="#ab111b" stroke-width="1.3" stroke-linecap="butt"/>
<rect x="680.8" y="446.0224" width="5.2" height="5.2" fill="#ab111b"/>
<path d="M563.4 342.2 L583.4 373.2744 L603.4 389.54 L643.4 407.1212 L683.4 411.3072" fill="none" stroke="#000" stroke-width="1.45" stroke-linejoin="round"/>
<line x1="563.4" y1="339.59999999999997" x2="563.4" y2="344.8" stroke="#000" stroke-width="1.3" stroke-linecap="butt"/>
<line x1="561.0" y1="339.59999999999997" x2="565.8" y2="339.59999999999997" stroke="#000" stroke-width="1.3" stroke-linecap="butt"/>
<line x1="561.0" y1="344.8" x2="565.8" y2="344.8" stroke="#000" stroke-width="1.3" stroke-linecap="butt"/>
<circle cx="563.4" cy="342.2" r="2.5" fill="#000"/>
<line x1="583.4" y1="364.6744" x2="583.4" y2="381.87440000000004" stroke="#000" stroke-width="1.3" stroke-linecap="butt"/>
<line x1="581.0" y1="364.6744" x2="585.8" y2="364.6744" stroke="#000" stroke-width="1.3" stroke-linecap="butt"/>
<line x1="581.0" y1="381.87440000000004" x2="585.8" y2="381.87440000000004" stroke="#000" stroke-width="1.3" stroke-linecap="butt"/>
<circle cx="583.4" cy="373.2744" r="2.5" fill="#000"/>
<line x1="603.4" y1="384.54" x2="603.4" y2="394.54" stroke="#000" stroke-width="1.3" stroke-linecap="butt"/>
<line x1="601.0" y1="384.54" x2="605.8" y2="384.54" stroke="#000" stroke-width="1.3" stroke-linecap="butt"/>
<line x1="601.0" y1="394.54" x2="605.8" y2="394.54" stroke="#000" stroke-width="1.3" stroke-linecap="butt"/>
<circle cx="603.4" cy="389.54" r="2.5" fill="#000"/>
<line x1="643.4" y1="399.52119999999996" x2="643.4" y2="414.7212" stroke="#000" stroke-width="1.3" stroke-linecap="butt"/>
<line x1="641.0" y1="399.52119999999996" x2="645.8" y2="399.52119999999996" stroke="#000" stroke-width="1.3" stroke-linecap="butt"/>
<line x1="641.0" y1="414.7212" x2="645.8" y2="414.7212" stroke="#000" stroke-width="1.3" stroke-linecap="butt"/>
<circle cx="643.4" cy="407.1212" r="2.5" fill="#000"/>
<line x1="683.4" y1="404.90720000000005" x2="683.4" y2="417.7072" stroke="#000" stroke-width="1.3" stroke-linecap="butt"/>
<line x1="681.0" y1="404.90720000000005" x2="685.8" y2="404.90720000000005" stroke="#000" stroke-width="1.3" stroke-linecap="butt"/>
<line x1="681.0" y1="417.7072" x2="685.8" y2="417.7072" stroke="#000" stroke-width="1.3" stroke-linecap="butt"/>
<circle cx="683.4" cy="411.3072" r="2.5" fill="#000"/>
<text x="538.7" y="491.4" font-size="13.7" textLength="168.4" lengthAdjust="spacingAndGlyphs" stroke="#000" stroke-width="0.45">Glucose free culture (hours)</text>
<text x="534.2" y="462" font-size="13.7" textLength="123" lengthAdjust="spacingAndGlyphs" transform="rotate(-90 534.2 462)" stroke="#000" stroke-width="0.45">Survival proportions</text>
</g>
</svg>
</body>
</html>
